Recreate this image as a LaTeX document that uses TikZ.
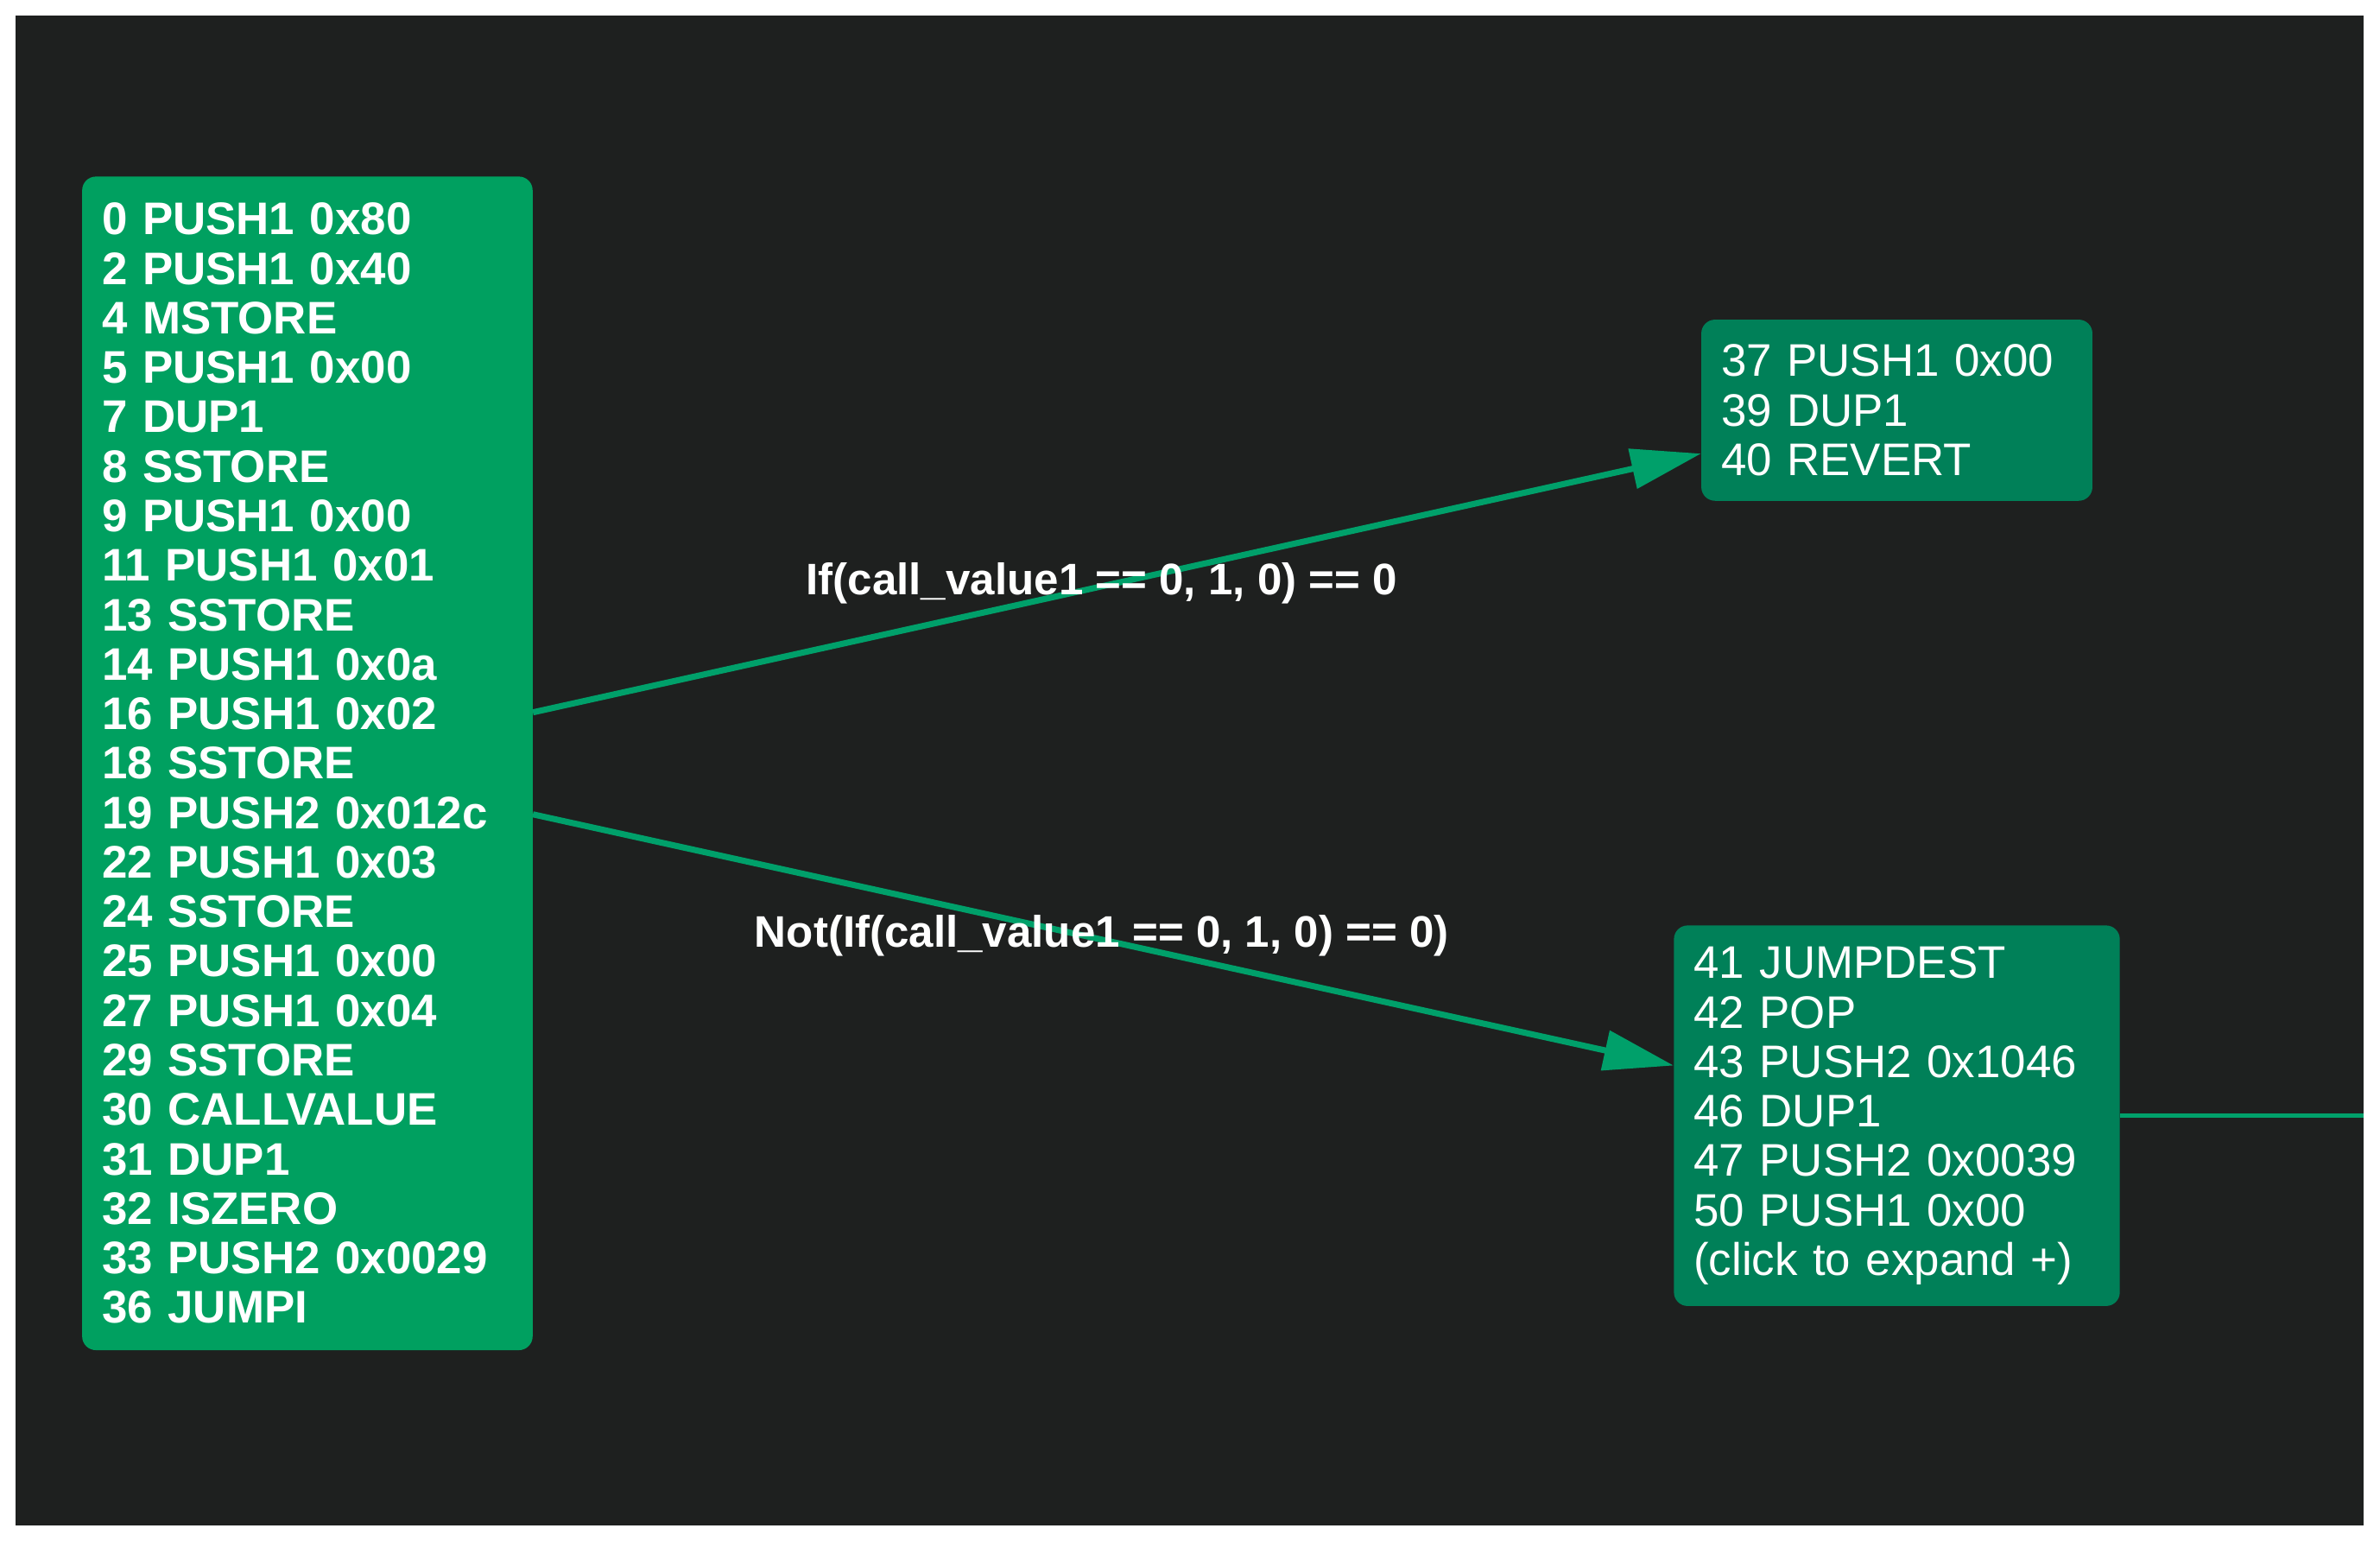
\documentclass[tikz,border=0pt]{standalone}
\usepackage{fontspec}
\setmainfont{Liberation Sans}
\usetikzlibrary{arrows.meta}
\definecolor{bg}{HTML}{1E201F}
\definecolor{gA}{HTML}{00A060}
\definecolor{gB}{HTML}{008058}
\definecolor{edge}{HTML}{00A06A}
\begin{document}
\begin{tikzpicture}[x=1pt,y=-1pt,
  box/.style={rounded corners=9pt,text=white,align=left,inner xsep=13pt,inner ysep=0pt,font=\fontsize{30}{32.5}\selectfont},
  lab/.style={text=white,font=\bfseries\fontsize{29}{32}\selectfont},
  con/.style={draw=edge,line width=4pt,-{Triangle[length=46pt,width=26pt]}}]
\useasboundingbox (0,0) rectangle (1564,1012);
\fill[white] (0,0) rectangle (1564,1012);
\fill[bg] (10,10) rectangle (1553,1002);
\node[box,fill=gA,font=\bfseries\fontsize{30}{32.5}\selectfont,text width=270pt,minimum height=771pt] (b1) at (202,501.5) {0 PUSH1 0x80\\2 PUSH1 0x40\\4 MSTORE\\5 PUSH1 0x00\\7 DUP1\\8 SSTORE\\9 PUSH1 0x00\\11 PUSH1 0x01\\13 SSTORE\\14 PUSH1 0x0a\\16 PUSH1 0x02\\18 SSTORE\\19 PUSH2 0x012c\\22 PUSH1 0x03\\24 SSTORE\\25 PUSH1 0x00\\27 PUSH1 0x04\\29 SSTORE\\30 CALLVALUE\\31 DUP1\\32 ISZERO\\33 PUSH2 0x0029\\36 JUMPI};
\node[box,fill=gB,text width=231pt,minimum height=119pt] (b2) at (1246.5,269.5) {37 PUSH1 0x00\\39 DUP1\\40 REVERT};
\node[box,fill=gB,text width=267pt,minimum height=250pt] (b3) at (1246.5,733) {41 JUMPDEST\\42 POP\\43 PUSH2 0x1046\\46 DUP1\\47 PUSH2 0x0039\\50 PUSH1 0x00\\(click to expand +)};
\coordinate (out) at (1553,733);
\draw[con] (b1.east |- 0,468) -- (b2.west |- 0,298);
\draw[con] (b1.east |- 0,535) -- (b3.west |- 0,700);
\draw[draw=edge,line width=2.5pt] (b3.east) -- (out);
\node[lab] (l1) at (724,383) {If(call\_value1 == 0, 1, 0) == 0};
\node[lab] (l2) at (724,615) {Not(If(call\_value1 == 0, 1, 0) == 0)};
\end{tikzpicture}
\end{document}
